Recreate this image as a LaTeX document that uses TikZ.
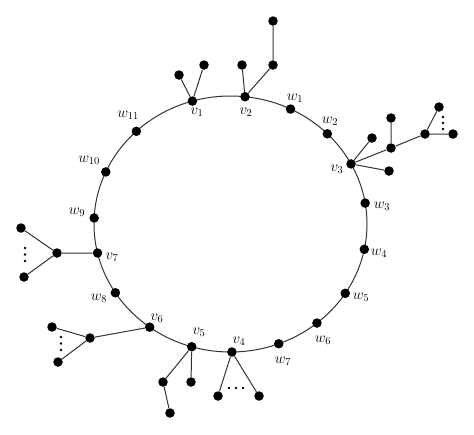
\documentclass[tikz,border=0pt]{standalone}
\usepackage{fix-cm}
\begin{document}
\fontsize{15}{17}\selectfont
\begin{tikzpicture}[x=1pt,y=-1pt,
  dot/.style={circle,fill=black,draw=none,inner sep=0pt,minimum size=9.5pt},
  sdot/.style={circle,fill=black,draw=none,inner sep=0pt,minimum size=2.6pt},
  edge/.style={line width=1pt,draw=black!80},
  lbl/.style={inner sep=0pt,font=\fontsize{15}{17}\selectfont}]
\useasboundingbox (0,0) rectangle (474,434);
\coordinate (c) at (230.5,224);
\draw[edge] (c) ellipse [x radius=136.5pt, y radius=128pt];
% vertices on the cycle
\foreach \n/\a in {v1/106.2, v2/83.9, w1/63.9, w2/44.8, v3/28.0, w3/9.4, w4/-11.4,
  w5/-32.8, w6/-50.7, w7/-69.3, v4/-89.4, v5/-106.5, v6/-126.3, w8/-147.5,
  v7/-166.9, w9/177.3, w10/156, w11/133.6}
  \node[dot] (\n) at ([shift={(\a:136.5pt and 128pt)}]c) {};
% labels
\node[lbl] (lv1) at (197,112) {$v_1$};
\node[lbl] (lv2) at (246,112) {$v_2$};
\node[lbl] (lw1) at (295,98) {$w_1$};
\node[lbl] (lw2) at (330,121) {$w_2$};
\node[lbl] (lv3) at (337,169) {$v_3$};
\node[lbl] (lw3) at (382,206) {$w_3$};
\node[lbl] (lw4) at (379,253) {$w_4$};
\node[lbl] (lw5) at (361,297) {$w_5$};
\node[lbl] (lw6) at (323,340) {$w_6$};
\node[lbl] (lw7) at (283,361) {$w_7$};
\node[lbl] (lv4) at (239,341) {$v_4$};
\node[lbl] (lv5) at (199,332) {$v_5$};
\node[lbl] (lv6) at (157,318) {$v_6$};
\node[lbl] (lw8) at (99,298) {$w_8$};
\node[lbl] (lv7) at (112,257) {$v_7$};
\node[lbl] (lw9) at (77,212) {$w_9$};
\node[lbl] (lw10) at (89,160) {$w_{10}$};
\node[lbl] (lw11) at (128,115) {$w_{11}$};
% pendant trees
\node[dot] (a1) at (179,75) {};
\node[dot] (a2) at (204,65) {};
\draw[edge] (v1) -- (a1) (v1) -- (a2);
\node[dot] (b1) at (242,65) {};
\node[dot] (b2) at (273,65) {};
\node[dot] (b3) at (273,21) {};
\draw[edge] (v2) -- (b1) (v2) -- (b2) -- (b3);
\node[dot] (c1) at (372,138) {};
\node[dot] (c2) at (391,148) {};
\node[dot] (c3) at (391,118) {};
\node[dot] (c4) at (389,171) {};
\node[dot] (c5) at (425,134) {};
\node[dot] (c6) at (439,107) {};
\node[dot] (c7) at (453,134) {};
\draw[edge] (v3) -- (c1) (v3) -- (c2) -- (c3) (v3) -- (c4) (c2) -- (c5) -- (c6) (c5) -- (c7);
\foreach \y [count=\i] in {117,123,129} \node[sdot] (cd\i) at (443,\y) {};
\node[dot] (d1) at (218,396) {};
\node[dot] (d2) at (259,396) {};
\draw[edge] (v4) -- (d1) (v4) -- (d2);
\foreach \x [count=\i] in {229,236,243} \node[sdot] (dd\i) at (\x,388) {};
\node[dot] (e1) at (163,382) {};
\node[dot] (e2) at (170,413) {};
\node[dot] (e3) at (191,382) {};
\draw[edge] (v5) -- (e1) -- (e2) (v5) -- (e3);
\node[dot] (f1) at (90,338) {};
\node[dot] (f2) at (52,327) {};
\node[dot] (f3) at (58,362) {};
\draw[edge] (v6) -- (f1) -- (f2) (f1) -- (f3);
\foreach \y [count=\i] in {337,343.5,350} \node[sdot] (fd\i) at (61,\y) {};
\node[dot] (g1) at (57,253) {};
\node[dot] (g2) at (21,228) {};
\node[dot] (g3) at (24,277) {};
\draw[edge] (v7) -- (g1) -- (g2) (g1) -- (g3);
\foreach \y [count=\i] in {248,254.5,261} \node[sdot] (gd\i) at (25,\y) {};
\end{tikzpicture}
\end{document}
